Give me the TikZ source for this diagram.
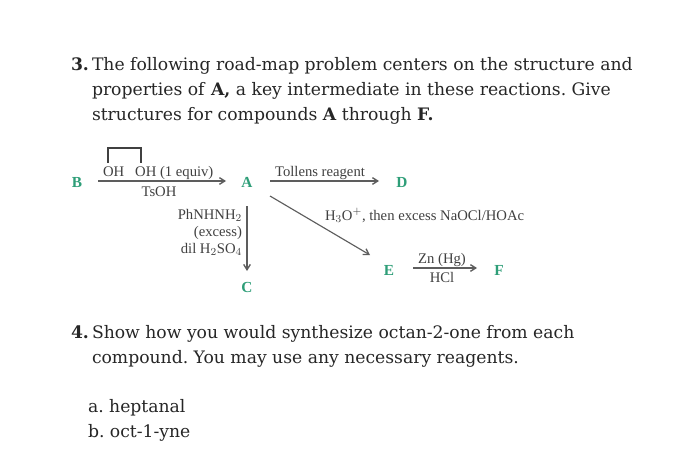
\documentclass[tikz,border=0pt]{standalone}
\usepackage{fontspec}
\setmainfont{DejaVu Serif}
\newfontfamily\chemfont{Liberation Serif}
\usetikzlibrary{arrows.meta}
\definecolor{lettergreen}{HTML}{2E9E78}
\definecolor{chemgray}{HTML}{404040}
\definecolor{txt}{HTML}{262626}
\tikzset{
  q/.style={anchor=base west,inner sep=0pt,outer sep=0pt,text=txt,font=\fontsize{12.9pt}{15pt}\selectfont},
  chem/.style={anchor=base,inner sep=0pt,outer sep=0pt,text=chemgray,font=\chemfont\fontsize{11pt}{13pt}\selectfont},
  letter/.style={anchor=base,inner sep=0pt,text=lettergreen,font=\chemfont\bfseries\fontsize{11.5pt}{13pt}\selectfont},
  rx/.style={draw=chemgray!85,line width=0.85pt,-{Straight Barb[length=4pt,width=5pt,line width=1pt]}},
  ring/.style={draw=chemgray,line width=0.8pt}
}
\begin{document}
\frenchspacing
\begin{tikzpicture}[x=0.75pt,y=-0.75pt]
\useasboundingbox[fill=white] (0,0) rectangle (700,453);
\node[q] (n3) at (71,70) {\textbf{3.}};
\node[q] (t1) at (92,70) {The following road-map problem centers on the structure and};
\node[q] (t2) at (92,95) {properties of \textbf{A,} a key intermediate in these reactions. Give};
\node[q] (t3) at (92,120) {structures for compounds \textbf{A} through \textbf{F.}};
\node[letter] (B) at (77,187) {B};
\node[letter] (A) at (247,187) {A};
\node[letter] (D) at (402,187) {D};
\node[letter] (C) at (247,292) {C};
\node[letter] (E) at (389,275) {E};
\node[letter] (F) at (499,275) {F};
\coordinate (b1) at (98,181);
\coordinate (b2) at (226,181);
\coordinate (a1) at (270,181);
\coordinate (a2) at (379,181);
\coordinate (c1) at (247,206);
\coordinate (c2) at (247,271);
\coordinate (e1) at (270,196);
\coordinate (e2) at (370,255);
\coordinate (f1) at (413,268);
\coordinate (f2) at (477,268);
\draw[rx] (b1) -- (b2);
\draw[rx] (a1) -- (a2);
\draw[rx] (c1) -- (c2);
\draw[rx] (e1) -- (e2);
\draw[rx] (f1) -- (f2);
\node[chem,anchor=base west] (ol) at (103,176) {OH\hspace{0.75em}OH (1 equiv)};
\coordinate (r1) at (108,163);
\coordinate (r2) at (108,148);
\coordinate (r3) at (141,148);
\coordinate (r4) at (141,163);
\draw[ring] (r1) -- (r2) -- (r3) -- (r4);
\node[chem] (ts) at (159,196) {TsOH};
\node[chem] (to) at (320,176) {Tollens reagent};
\node[chem,anchor=base east] (p1) at (242,219) {PhNHNH$_2$};
\node[chem,anchor=base east] (p2) at (242,236) {(excess)};
\node[chem,anchor=base east] (p3) at (242,253) {dil H$_2$SO$_4$};
\node[chem,anchor=base west] (h) at (325,220) {H$_3$O$^+$, then excess NaOCl/HOAc};
\node[chem] (zn) at (442,263) {Zn (Hg)};
\node[chem] (hc) at (442,282) {HCl};
\node[q] (n4) at (71,338) {\textbf{4.}};
\node[q] (t4) at (92,338) {Show how you would synthesize octan-2-one from each};
\node[q] (t5) at (92,363) {compound. You may use any necessary reagents.};
\node[q] (t6) at (88,412) {a. heptanal};
\node[q] (t7) at (88,437) {b. oct-1-yne};
\end{tikzpicture}
\end{document}
